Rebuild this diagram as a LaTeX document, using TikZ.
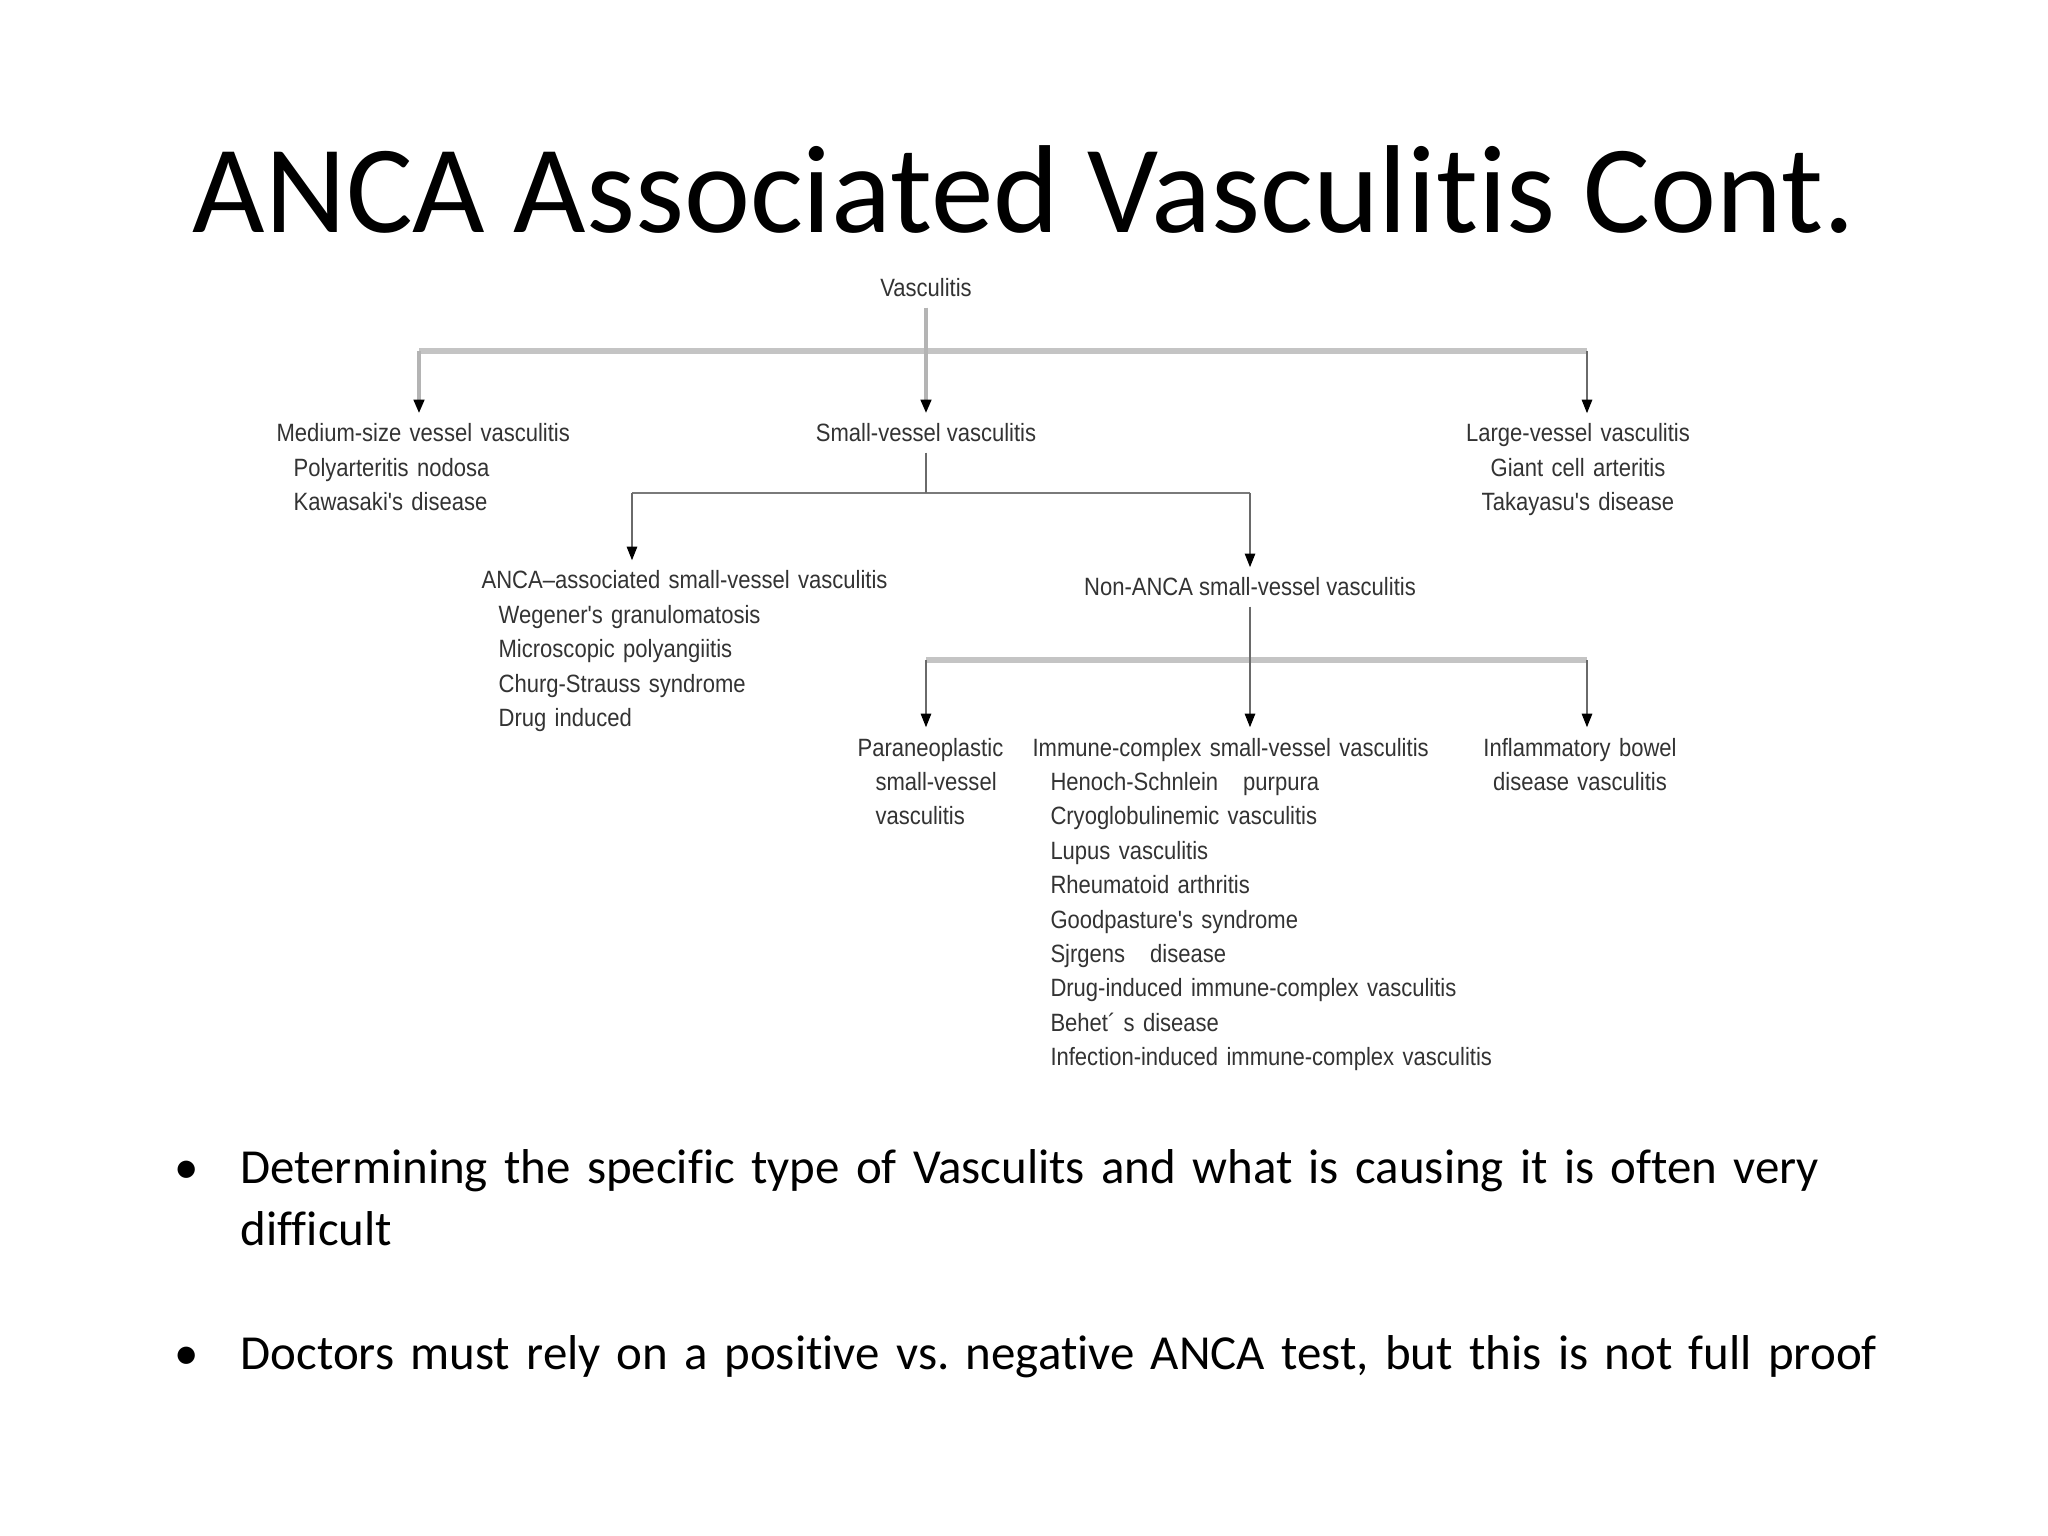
\documentclass[tikz,border=0pt]{standalone}
\usepackage{fontspec}
\setmainfont{Carlito}[Ligatures={TeX,NoCommon}]
\newfontfamily\chartfont[FakeStretch=0.88]{Liberation Sans}
\usetikzlibrary{arrows.meta,positioning}
\frenchspacing

\definecolor{chartink}{HTML}{333333}
\definecolor{barlight}{HTML}{C4C4C4}
\definecolor{dropgrey}{HTML}{B4B4B4}
\definecolor{linemid}{HTML}{7A7A7A}
\definecolor{linedark}{HTML}{6A6A6A}

\tikzset{
    every node/.style={inner sep=0pt},
    title/.style={font=\fontsize{44pt}{53pt}\selectfont},
    body/.style={font=\fontsize{17.2pt}{21.8pt}\selectfont, text width=#1, align=left},
    chart/.style={font=\chartfont\fontsize{8.8pt}{12.1pt}\selectfont, text=chartink, inner ysep=3.5pt},
    block/.style={chart, text width=#1, align=left},
    cblock/.style={chart, text width=#1, align=center},
    tip/.style={-{Triangle[length=4.8pt,width=3.6pt,color=black]}},
    bar/.style={draw=barlight, line width=1.8pt},
    greydrop/.style={draw=dropgrey, line width=1.3pt},
    midline/.style={draw=linemid, line width=1pt},
    darkline/.style={draw=linedark, line width=0.7pt}
}

\begin{document}
\begin{tikzpicture}[x=0.3515625pt, y=-0.3515625pt]
    \useasboundingbox[fill=white] (0,0) rectangle (2048,1536);

    % title
    \node[title, anchor=base] (title) at (1024,233) {ANCA Associated Vasculitis Cont.};

    % tree
    \node[chart] (vasc) at (926,288) {Vasculitis};
    \node[chart] (small) at (926,433) {Small-vessel vasculitis};
    \node[block=140pt, anchor=base west] (medium) at (276,442) {Medium-size vessel vasculitis\\
        \hspace*{6pt}Polyarteritis nodosa\\
        \hspace*{6pt}Kawasaki's disease};
    \node[cblock=100pt, anchor=base] (large) at (1578,442) {Large-vessel vasculitis\\
        Giant cell arteritis\\
        Takayasu's disease};
    \node[block=180pt, anchor=base west] (anca) at (481,589) {ANCA–associated small-vessel vasculitis\\
        \hspace*{6pt}Wegener's granulomatosis\\
        \hspace*{6pt}Microscopic polyangiitis\\
        \hspace*{6pt}Churg-Strauss syndrome\\
        \hspace*{6pt}Drug induced};
    \node[chart] (nonanca) at (1250,587) {Non-ANCA small-vessel vasculitis};
    \node[block=70pt, anchor=base west] (para) at (857,756) {Paraneoplastic\\
        \hspace*{6.3pt}small-vessel\\
        \hspace*{6.3pt}vasculitis};
    \node[block=190pt, anchor=base west] (immune) at (1032,756) {Immune-complex small-vessel vasculitis\\
        \hspace*{6.3pt}Henoch-Schnlein\ \ \ purpura\\
        \hspace*{6.3pt}Cryoglobulinemic vasculitis\\
        \hspace*{6.3pt}Lupus vasculitis\\
        \hspace*{6.3pt}Rheumatoid arthritis\\
        \hspace*{6.3pt}Goodpasture's syndrome\\
        \hspace*{6.3pt}Sjrgens\ \ \ disease\\
        \hspace*{6.3pt}Drug-induced immune-complex vasculitis\\
        \hspace*{6.3pt}Behet´\ s disease\\
        \hspace*{6.3pt}Infection-induced immune-complex vasculitis};
    \node[cblock=90pt, anchor=base] (ibd) at (1580,756) {Inflammatory bowel\\
        disease vasculitis};

    \coordinate (tl) at (419,351);
    \coordinate (tr) at (1587,351);
    \coordinate (ml) at (632,493);
    \coordinate (mr) at (1250,493);
    \coordinate (bl) at (926,660);
    \coordinate (br) at (1587,660);

    \draw[bar] (tl) -- (tr);
    \draw[greydrop, tip] (vasc) -- (small);
    \draw[greydrop, tip] (tl) -- (tl |- medium.north);
    \draw[darkline, tip] (tr) -- (tr |- large.north);

    \draw[midline] (ml) -- (mr);
    \draw[darkline] (small) -- (small |- ml);
    \draw[darkline, tip] (ml) -- (ml |- anca.north);
    \draw[darkline, tip] (mr) -- (nonanca);

    \draw[bar] (bl) -- (br);
    \draw[darkline, tip] (nonanca) -- (nonanca |- immune.north);
    \draw[darkline, tip] (bl) -- (bl |- para.north);
    \draw[darkline, tip] (br) -- (br |- ibd.north);

    % bullets
    \node[anchor=base west, font=\fontsize{17.2pt}{21.8pt}\selectfont] (dot1) at (174,1183) {•};
    \node[body=620pt, anchor=base west] (point1) at (240,1183) {Determining the specific type of Vasculits and what is causing it is often very\\
        difficult};
    \node[anchor=base west, font=\fontsize{17.2pt}{21.8pt}\selectfont] (dot2) at (174,1369) {•};
    \node[body=620pt, anchor=base west] (point2) at (240,1369) {Doctors must rely on a positive vs. negative ANCA test, but this is not full proof};
\end{tikzpicture}
\end{document}
